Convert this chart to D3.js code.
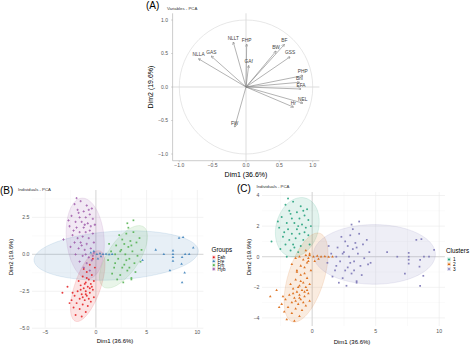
<!DOCTYPE html>
<html>
<head>
<meta charset="utf-8">
<script src="https://cdn.jsdelivr.net/npm/d3@7"></script>
<style>
  body { margin: 0; background: #fff; }
  text { font-family: "Liberation Sans", Arial, sans-serif; }
</style>
</head>
<body>
<div id="plot"></div>
<script>
// ---------- data ----------
// Panel A: variable loadings on Dim1 / Dim2
var varNames = ["NLLA", "GAS", "NLLT", "FHP", "GAf", "BF", "BW", "GSS", "PHP", "Bnl", "EFA", "NEL", "Hr", "FW"];
var varDim1  = [-0.71, -0.52, -0.19, 0.01, 0.04, 0.575, 0.45, 0.66, 0.85, 0.80, 0.825, 0.85, 0.71, -0.17];
var varDim2  = [0.42, 0.46, 0.67, 0.64, 0.32, 0.635, 0.535, 0.45, 0.17, 0.07, -0.03, -0.24, -0.30, -0.60];

var ticksA = [-1.0, -0.5, 0.0, 0.5, 1.0];

// Individuals: [Dim1, Dim2, cluster]
var fahPts = [[-0.3,-0.3,2],[-0.6,-0.7,2],[-0.1,-0.9,2],[-0.9,-1.2,2],[-0.4,-1.4,2],[-1.3,-1.5,2],[-0.7,-1.7,2],
  [-0.2,-1.8,2],[-1.0,-1.9,2],[-0.5,-2.0,2],[-1.5,-2.1,2],[-0.8,-2.2,2],[-1.2,-2.3,2],[-0.3,-2.4,2],[-1.8,-2.5,2],
  [-1.0,-2.5,2],[-0.6,-2.6,2],[-1.4,-2.7,2],[-2.1,-2.8,2],[-0.9,-2.8,2],[-1.6,-3.0,2],[-1.1,-3.1,2],[-2.4,-3.1,2],
  [-0.5,-3.2,2],[-1.9,-3.3,2],[-1.3,-3.4,2],[-0.8,-3.5,2],[-2.2,-3.6,2],[-1.6,-3.7,2],[-1.0,-3.9,2],[-2.0,-4.1,2],
  [-1.4,-4.2,2],[-2.6,-3.3,2],[-0.2,-2.9,2],[-1.7,-1.8,2],[-2.8,-2.2,2],[-1.2,-1.0,2],[-0.7,-3.0,2],[-1.5,-2.4,2],
  [-0.9,-1.6,2],[-3.3,-2.6,2],[-1.1,-2.0,2],[-0.4,-2.2,2],[-1.3,-2.9,2],[-2.3,-2.6,2],[-0.6,-2.3,2],[-1.0,-2.7,2]];

var frePts = [[0.1,0.0,2],[0.4,0.05,2],[0.7,0.0,2],[1.0,0.02,2],[1.3,-0.02,2],[1.6,0.0,2],[0.2,-0.3,2],
  [-0.2,0.2,2],[0.5,-0.15,2],[-0.5,0.1,2],[8.2,1.1,3],[8.6,1.15,3],[9.6,0.45,3],[9.2,0.0,3],[8.8,0.0,3],
  [7.6,0.25,3],[7.6,0.0,3],[7.6,-0.2,3],[7.6,-0.45,3],[6.7,0.0,3],[8.5,-0.2,3],[8.45,-0.65,3],[7.3,-1.1,3],
  [8.75,-1.25,3],[8.5,-1.9,3],[5.9,0.3,3],[4.6,-0.4,3]];

var frhPts = [[1.2,-0.4,3],[1.5,0.2,3],[1.8,-0.9,3],[2.0,0.6,3],[2.2,-0.3,3],[2.4,-1.4,3],[2.5,0.3,3],[2.6,1.0,3],
  [2.8,-0.7,3],[2.9,0.0,3],[3.0,1.4,3],[3.1,-1.1,3],[3.2,0.5,3],[3.3,-0.3,3],[3.4,0.9,3],[3.5,-1.6,3],[3.6,0.2,3],
  [3.7,1.5,3],[3.8,-0.6,3],[4.0,0.8,3],[4.1,-0.1,3],[4.3,1.1,3],[2.1,-1.7,3],[2.7,-1.9,3],[3.9,-1.2,3],[1.6,-1.3,3],
  [2.3,1.3,3],[3.0,-0.4,3],[3.5,0.6,3],[2.6,-0.9,3],[4.5,0.3,3],[1.9,0.0,3],[3.2,1.8,3],[2.8,0.7,3],[3.7,2.3,3],
  [3.1,2.1,3],[3.3,-0.9,3],[2.4,0.2,3],[1.3,0.7,3],[4.4,-0.5,3],[3.5,-1.7,3],[1.9,-0.6,3]];

var hybPts = [[-2.1,3.4,1],[-1.5,3.6,1],[-0.9,3.3,1],[-0.4,3.1,1],[-1.8,3.0,1],[-1.2,2.9,1],[-0.6,2.7,1],
  [-2.4,2.6,1],[-1.6,2.5,1],[-1.0,2.5,1],[-0.3,2.4,1],[-2.0,2.2,1],[-1.4,2.2,1],[-0.8,2.1,1],[-2.6,1.9,1],
  [-1.9,1.8,1],[-1.2,1.8,1],[-0.5,1.9,1],[-1.6,1.5,1],[-1.0,1.5,1],[-0.3,1.4,1],[-2.3,1.3,1],[-1.8,1.1,1],
  [-1.3,1.2,1],[-0.7,1.1,1],[-2.1,0.8,1],[-1.5,0.8,1],[-0.9,0.7,1],[-0.2,0.8,1],[-2.5,0.5,1],[-1.7,0.4,1],
  [-1.1,0.3,1],[-0.5,0.4,2],[-2.0,0.0,1],[-1.3,-0.1,2],[-0.7,-0.2,2],[-0.2,0.1,2],[-1.6,-0.5,2],[-0.9,-0.6,2],
  [-0.4,-0.4,2],[-1.2,-0.9,2],[-0.6,-1.1,2],[-1.7,2.8,1],[-0.7,3.0,1],[-1.1,2.0,1],[-2.2,1.6,1],[-0.6,1.6,1],
  [-1.4,0.6,1],[-2.7,2.3,1],[-0.1,2.0,1],[-3.2,1.0,1],[-1.9,3.8,1],[-1.0,0.0,2],[-0.3,-0.1,2]];

var groups = ["Fah", "Fre", "Frh", "Hyb"];
var groupPts = [fahPts, frePts, frhPts, hybPts];
// confidence ellipses per group: centre, major half-axis, minor half-axis (data units)
var ellipseCentreB = [[-0.8,-2.15], [2.0,-0.08], [2.72,-0.17], [-1.05,1.08]];
var ellipseMajorB  = [[1.2,2.38],   [8.1,0.28],  [1.98,2.03],  [-0.35,2.72]];
var ellipseMinorB  = [[1.2,-0.28],  [0.1,1.65],  [1.3,-0.59],  [1.85,0.1]];

var clusters = ["1", "2", "3"];
var ellipseCentreC = [[-1.17,1.93], [-0.48,-1.36], [4.9,0.15]];
var ellipseMajorC  = [[0.65,1.9],   [1.08,2.89],   [4.8,0.0]];
var ellipseMinorC  = [[1.6,-0.38],  [1.35,-0.35],  [0.0,1.95]];

var xTicksB = [-5, 0, 5, 10], yTicksB = [-5.0, -2.5, 0.0, 2.5];
var xMinorB = [-2.5, 2.5, 7.5], yMinorB = [-3.75, -1.25, 1.25, 3.75];
var xTicksC = [0, 5, 10], yTicksC = [-4, -2, 0, 2, 4];
var xMinorC = [-2.5, 2.5, 7.5], yMinorC = [-3, -1, 1, 3];

// ---------- svg ----------
var W = 474, H = 348;
var svg = d3.select("#plot").append("svg").attr("width", W).attr("height", H);

var groupColor = d3.scaleOrdinal().domain(groups).range(["#E41A1C", "#377EB8", "#4DAF4A", "#984EA3"]);
var groupShape = d3.scaleOrdinal().domain(groups).range([d3.symbolCircle, d3.symbolTriangle, d3.symbolSquare, d3.symbolCross]);
var clusterColor = d3.scaleOrdinal().domain(clusters).range(["#1B9E77", "#D95F02", "#7570B3"]);
var clusterShape = d3.scaleOrdinal().domain(clusters).range([d3.symbolCircle, d3.symbolTriangle, d3.symbolSquare]);

// ================= Panel A =================
var xA = d3.scaleLinear().domain([-1.1, 1.1]).range([172.6, 319.4]);
var yA = d3.scaleLinear().domain([-1.1, 1.1]).range([160.7, 13.3]);
var gA = svg.append("g");

svg.append("text").attr("x", 146).attr("y", 9).style("font-size", "10px").text("(A)");
svg.append("text").attr("x", 167).attr("y", 9.5).style("font-size", "4.3px").attr("fill", "#333").text("Variables - PCA");

// axes lines
gA.append("line").attr("x1", xA.range()[0]).attr("x2", xA.range()[0]).attr("y1", yA.range()[1]).attr("y2", yA.range()[0])
  .attr("stroke", "#aaa").attr("stroke-width", 0.6);
gA.append("line").attr("x1", xA.range()[0]).attr("x2", xA.range()[1]).attr("y1", yA.range()[0]).attr("y2", yA.range()[0])
  .attr("stroke", "#aaa").attr("stroke-width", 0.6);
ticksA.forEach(function(t) {
  gA.append("line").attr("x1", xA(t)).attr("x2", xA(t)).attr("y1", yA.range()[0]).attr("y2", yA.range()[0] + 1.5).attr("stroke", "#aaa").attr("stroke-width", 0.5);
  gA.append("line").attr("y1", yA(t)).attr("y2", yA(t)).attr("x1", xA.range()[0]).attr("x2", xA.range()[0] - 1.5).attr("stroke", "#aaa").attr("stroke-width", 0.5);
  gA.append("text").attr("x", xA(t)).attr("y", 167).attr("text-anchor", "middle").style("font-size", "5px").attr("fill", "#555").text(d3.format(".1f")(t).replace("-", "\u2212"));
  gA.append("text").attr("x", 168).attr("y", yA(t)).attr("dy", "0.35em").attr("text-anchor", "end").style("font-size", "5px").attr("fill", "#555").text(d3.format(".1f")(t).replace("-", "\u2212"));
});

// zero lines and correlation circle
gA.append("line").attr("x1", xA(0)).attr("x2", xA(0)).attr("y1", yA.range()[1]).attr("y2", yA.range()[0]).attr("stroke", "#bbb").attr("stroke-width", 0.5);
gA.append("line").attr("x1", xA.range()[0]).attr("x2", xA.range()[1]).attr("y1", yA(0)).attr("y2", yA(0)).attr("stroke", "#bbb").attr("stroke-width", 0.5);
gA.append("ellipse").attr("cx", xA(0)).attr("cy", yA(0)).attr("rx", xA(1) - xA(0)).attr("ry", yA(0) - yA(1))
  .attr("fill", "none").attr("stroke", "#d6d6d6").attr("stroke-width", 0.6);

svg.append("defs").append("marker").attr("id", "arr").attr("viewBox", "0 0 10 10").attr("refX", 9).attr("refY", 5)
  .attr("markerWidth", 3).attr("markerHeight", 3).attr("markerUnits", "userSpaceOnUse").attr("orient", "auto")
  .append("path").attr("d", "M0,0L10,5L0,10").attr("fill", "none").attr("stroke", "#777").attr("stroke-width", 1.5);

varNames.forEach(function(n, i) {
  gA.append("line").attr("x1", xA(0)).attr("y1", yA(0)).attr("x2", xA(varDim1[i])).attr("y2", yA(varDim2[i]))
    .attr("stroke", "#808080").attr("stroke-width", 0.6).attr("marker-end", "url(#arr)");
  gA.append("text").attr("x", xA(varDim1[i])).attr("y", yA(varDim2[i]) - 2.5).attr("text-anchor", "middle")
    .style("font-size", "4.8px").attr("fill", "#444").text(n);
});

svg.append("text").attr("x", 246).attr("y", 177).attr("text-anchor", "middle").style("font-size", "7px").text("Dim1 (36.6%)");
svg.append("text").attr("transform", "translate(153,87) rotate(-90)").attr("text-anchor", "middle").style("font-size", "7px").text("Dim2 (19.6%)");

// ================= helpers for individuals panels =================
function ellipsePath(x, y, c, u, v) {
  var pts = d3.range(0, 361, 4).map(function(deg) {
    var t = deg * Math.PI / 180;
    return [x(c[0] + u[0] * Math.cos(t) + v[0] * Math.sin(t)), y(c[1] + u[1] * Math.cos(t) + v[1] * Math.sin(t))];
  });
  return d3.line()(pts) + "Z";
}

function drawFrame(g, x, y, xt, yt, xm, ym, fmt) {
  var x0 = x.range()[0], x1 = x.range()[1], y0 = y.range()[0], y1 = y.range()[1];
  xm.forEach(function(t) { g.append("line").attr("x1", x(t)).attr("x2", x(t)).attr("y1", y1).attr("y2", y0).attr("stroke", "#f3f3f3").attr("stroke-width", 0.4); });
  ym.forEach(function(t) { g.append("line").attr("y1", y(t)).attr("y2", y(t)).attr("x1", x0).attr("x2", x1).attr("stroke", "#f3f3f3").attr("stroke-width", 0.4); });
  xt.forEach(function(t) {
    g.append("line").attr("x1", x(t)).attr("x2", x(t)).attr("y1", y1).attr("y2", y0).attr("stroke", "#e9e9e9").attr("stroke-width", 0.6);
    g.append("text").attr("x", x(t)).attr("y", y0 + 6.5).attr("text-anchor", "middle").style("font-size", "5.2px").attr("fill", "#555").text(d3.format("d")(t).replace("-", "\u2212"));
  });
  yt.forEach(function(t) {
    g.append("line").attr("y1", y(t)).attr("y2", y(t)).attr("x1", x0).attr("x2", x1).attr("stroke", "#e9e9e9").attr("stroke-width", 0.6);
    g.append("text").attr("x", x0 - 2.5).attr("y", y(t)).attr("dy", "0.35em").attr("text-anchor", "end").style("font-size", "5.2px").attr("fill", "#555").text(fmt(t).replace("-", "\u2212"));
  });
  g.append("line").attr("x1", x(0)).attr("x2", x(0)).attr("y1", y1).attr("y2", y0).attr("stroke", "#c4c4c4").attr("stroke-width", 0.6);
  g.append("line").attr("y1", y(0)).attr("y2", y(0)).attr("x1", x0).attr("x2", x1).attr("stroke", "#c4c4c4").attr("stroke-width", 0.6);
}

// ================= Panel B =================
var xB = d3.scaleLinear().domain([-6.3, 10.6]).range([32, 203.4]);
var yB = d3.scaleLinear().domain([-4.95, 4.35]).range([327.5, 190]);
var gB = svg.append("g");
drawFrame(gB, xB, yB, xTicksB, yTicksB, xMinorB, yMinorB, d3.format(".1f"));

groups.forEach(function(gr, i) {
  gB.append("path").attr("d", ellipsePath(xB, yB, ellipseCentreB[i], ellipseMajorB[i], ellipseMinorB[i]))
    .attr("fill", groupColor(gr)).attr("fill-opacity", 0.12).attr("stroke", groupColor(gr)).attr("stroke-opacity", 0.25).attr("stroke-width", 0.5);
});
groups.forEach(function(gr, i) {
  gB.selectAll(null).data(groupPts[i]).enter().append("path")
    .attr("d", d3.symbol().type(groupShape(gr)).size(3))
    .attr("transform", function(d) { return "translate(" + xB(d[0]) + "," + yB(d[1]) + ")"; })
    .attr("fill", groupColor(gr)).attr("opacity", 0.85);
});

svg.append("text").attr("x", 0).attr("y", 194).style("font-size", "10px").text("(B)");
svg.append("text").attr("x", 18).attr("y", 190.5).style("font-size", "4.3px").attr("fill", "#333").text("Individuals - PCA");
svg.append("text").attr("x", 115).attr("y", 343).attr("text-anchor", "middle").style("font-size", "6px").text("Dim1 (36.6%)");
svg.append("text").attr("transform", "translate(12.5,257) rotate(-90)").attr("text-anchor", "middle").style("font-size", "6px").text("Dim2 (19.6%)");

// legend B
var legB = svg.append("g");
legB.append("text").attr("x", 211.5).attr("y", 252).style("font-size", "6.3px").text("Groups");
groups.forEach(function(gr, i) {
  var yy = 257.3 + i * 3.9;
  legB.append("rect").attr("x", 212).attr("y", yy - 1.8).attr("width", 3.6).attr("height", 3.6).attr("fill", groupColor(gr)).attr("fill-opacity", 0.2);
  legB.append("path").attr("d", d3.symbol().type(groupShape(gr)).size(3)).attr("transform", "translate(213.8," + yy + ")").attr("fill", groupColor(gr));
  legB.append("text").attr("x", 217.5).attr("y", yy).attr("dy", "0.35em").style("font-size", "4.5px").text(gr);
});

// ================= Panel C =================
var xC = d3.scaleLinear().domain([-3.95, 10.45]).range([262, 444.9]);
var yC = d3.scaleLinear().domain([-4.53, 4.23]).range([326, 192]);
var gC = svg.append("g");
drawFrame(gC, xC, yC, xTicksC, yTicksC, xMinorC, yMinorC, d3.format("d"));

var allPts = [].concat(fahPts, frePts, frhPts, hybPts);
clusters.forEach(function(cl, i) {
  gC.append("path").attr("d", ellipsePath(xC, yC, ellipseCentreC[i], ellipseMajorC[i], ellipseMinorC[i]))
    .attr("fill", clusterColor(cl)).attr("fill-opacity", 0.12).attr("stroke", clusterColor(cl)).attr("stroke-opacity", 0.25).attr("stroke-width", 0.5);
});
gC.selectAll(null).data(allPts).enter().append("path")
  .attr("d", function(d) { return d3.symbol().type(clusterShape(String(d[2]))).size(3)(); })
  .attr("transform", function(d) { return "translate(" + xC(d[0]) + "," + yC(d[1]) + ")"; })
  .attr("fill", function(d) { return clusterColor(String(d[2])); }).attr("opacity", 0.85);

svg.append("text").attr("x", 237).attr("y", 192).style("font-size", "10px").text("(C)");
svg.append("text").attr("x", 256.5).attr("y", 187.5).style("font-size", "4.3px").attr("fill", "#333").text("Individuals - PCA");
svg.append("text").attr("x", 352).attr("y", 344).attr("text-anchor", "middle").style("font-size", "6px").text("Dim1 (36.6%)");
svg.append("text").attr("transform", "translate(251,257) rotate(-90)").attr("text-anchor", "middle").style("font-size", "6px").text("Dim2 (19.6%)");

var legC = svg.append("g");
legC.append("text").attr("x", 446).attr("y", 253).style("font-size", "6.3px").text("Clusters");
clusters.forEach(function(cl, i) {
  var yy = 259.4 + i * 4.8;
  legC.append("rect").attr("x", 447).attr("y", yy - 2).attr("width", 4).attr("height", 4).attr("fill", clusterColor(cl)).attr("fill-opacity", 0.2);
  legC.append("path").attr("d", d3.symbol().type(clusterShape(cl)).size(3)).attr("transform", "translate(449," + yy + ")").attr("fill", clusterColor(cl));
  legC.append("text").attr("x", 453).attr("y", yy).attr("dy", "0.35em").style("font-size", "4.8px").text(cl);
});
</script>
</body>
</html>
